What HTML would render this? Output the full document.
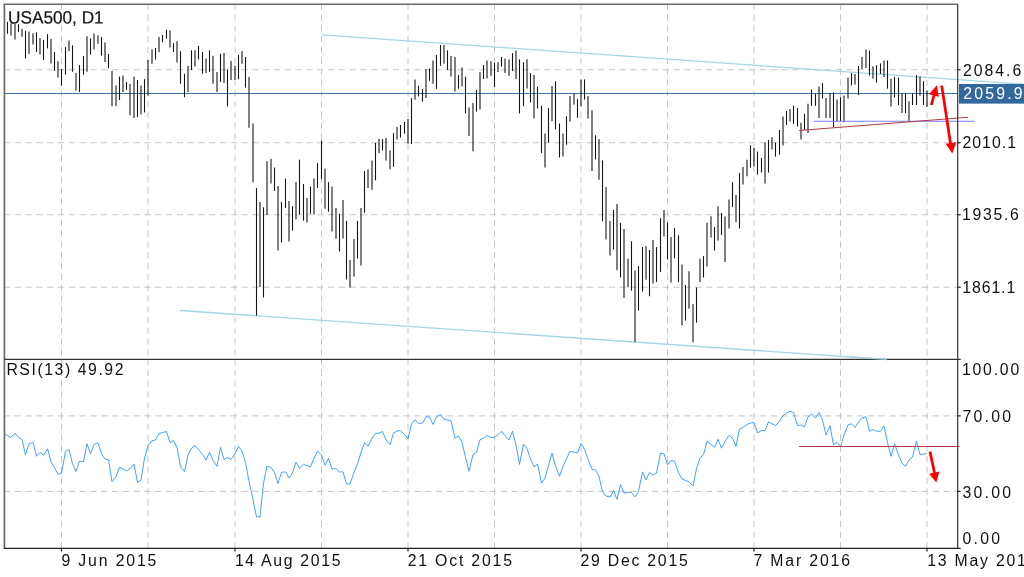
<!DOCTYPE html><html><head><meta charset="utf-8"><title>USA500, D1</title>
<style>html,body{margin:0;padding:0;background:#fff;}body{width:1024px;height:577px;overflow:hidden;}svg{display:block;}text{font-family:"Liberation Sans",sans-serif;fill:#111;}</style></head><body>
<svg width="1024" height="577" viewBox="0 0 1024 577">
<rect width="1024" height="577" fill="#fff"/>
<g stroke="#c6c6c6" stroke-width="1" stroke-dasharray="6.4,4.4" fill="none">
<line x1="61.50" y1="4.2" x2="61.50" y2="359.3" stroke-dashoffset="0.5"/>
<line x1="61.50" y1="359.3" x2="61.50" y2="548.4" stroke-dashoffset="0.5"/>
<line x1="148.00" y1="4.2" x2="148.00" y2="359.3" stroke-dashoffset="0.5"/>
<line x1="148.00" y1="359.3" x2="148.00" y2="548.4" stroke-dashoffset="0.5"/>
<line x1="235.00" y1="4.2" x2="235.00" y2="359.3" stroke-dashoffset="0.5"/>
<line x1="235.00" y1="359.3" x2="235.00" y2="548.4" stroke-dashoffset="0.5"/>
<line x1="321.50" y1="4.2" x2="321.50" y2="359.3" stroke-dashoffset="0.5"/>
<line x1="321.50" y1="359.3" x2="321.50" y2="548.4" stroke-dashoffset="0.5"/>
<line x1="408.00" y1="4.2" x2="408.00" y2="359.3" stroke-dashoffset="0.5"/>
<line x1="408.00" y1="359.3" x2="408.00" y2="548.4" stroke-dashoffset="0.5"/>
<line x1="494.50" y1="4.2" x2="494.50" y2="359.3" stroke-dashoffset="0.5"/>
<line x1="494.50" y1="359.3" x2="494.50" y2="548.4" stroke-dashoffset="0.5"/>
<line x1="581.00" y1="4.2" x2="581.00" y2="359.3" stroke-dashoffset="0.5"/>
<line x1="581.00" y1="359.3" x2="581.00" y2="548.4" stroke-dashoffset="0.5"/>
<line x1="667.50" y1="4.2" x2="667.50" y2="359.3" stroke-dashoffset="0.5"/>
<line x1="667.50" y1="359.3" x2="667.50" y2="548.4" stroke-dashoffset="0.5"/>
<line x1="754.00" y1="4.2" x2="754.00" y2="359.3" stroke-dashoffset="0.5"/>
<line x1="754.00" y1="359.3" x2="754.00" y2="548.4" stroke-dashoffset="0.5"/>
<line x1="840.50" y1="4.2" x2="840.50" y2="359.3" stroke-dashoffset="0.5"/>
<line x1="840.50" y1="359.3" x2="840.50" y2="548.4" stroke-dashoffset="0.5"/>
<line x1="927.00" y1="4.2" x2="927.00" y2="359.3" stroke-dashoffset="0.5"/>
<line x1="927.00" y1="359.3" x2="927.00" y2="548.4" stroke-dashoffset="0.5"/>
<line x1="4.4" y1="69.75" x2="957.7" y2="69.75" stroke-dashoffset="0.55"/>
<line x1="4.4" y1="142.75" x2="957.7" y2="142.75" stroke-dashoffset="0.55"/>
<line x1="4.4" y1="214.75" x2="957.7" y2="214.75" stroke-dashoffset="0.55"/>
<line x1="4.4" y1="287.2" x2="957.7" y2="287.2" stroke-dashoffset="0.55"/>
<line x1="4.4" y1="415.9" x2="957.7" y2="415.9" stroke-dashoffset="0.55"/>
<line x1="4.4" y1="491.4" x2="957.7" y2="491.4" stroke-dashoffset="0.55"/>
</g>
<line x1="4.4" y1="93.5" x2="957.7" y2="93.5" stroke="#3d74ab" stroke-width="1"/>
<g stroke="#a6d5e4" stroke-width="1.3" fill="none">
<line x1="322" y1="34.9" x2="1024" y2="84.2"/>
<line x1="180" y1="310.5" x2="887" y2="359.5"/>
</g>
<g stroke="#141414" stroke-width="1.08" fill="none">
<line x1="7.50" y1="21.8" x2="7.50" y2="33.75"/>
<line x1="11.00" y1="23.2" x2="11.00" y2="35.5"/>
<line x1="15.00" y1="24" x2="15.00" y2="39.6"/>
<line x1="18.50" y1="24.1" x2="18.50" y2="32.1"/>
<line x1="22.00" y1="29" x2="22.00" y2="36.75"/>
<line x1="25.50" y1="30.8" x2="25.50" y2="58.4"/>
<line x1="29.00" y1="31.4" x2="29.00" y2="53.75"/>
<line x1="33.00" y1="33.3" x2="33.00" y2="44.4"/>
<line x1="36.50" y1="32.4" x2="36.50" y2="51.9"/>
<line x1="40.00" y1="38" x2="40.00" y2="54.6"/>
<line x1="43.50" y1="39.9" x2="43.50" y2="60"/>
<line x1="47.50" y1="34.25" x2="47.50" y2="48.4"/>
<line x1="51.00" y1="39" x2="51.00" y2="63.6"/>
<line x1="54.50" y1="52.1" x2="54.50" y2="70.9"/>
<line x1="58.00" y1="61.25" x2="58.00" y2="77.4"/>
<line x1="61.50" y1="69" x2="61.50" y2="85.6"/>
<line x1="65.50" y1="47.1" x2="65.50" y2="74.6"/>
<line x1="69.00" y1="40.6" x2="69.00" y2="51.1"/>
<line x1="72.50" y1="45.25" x2="72.50" y2="71.75"/>
<line x1="76.00" y1="73" x2="76.00" y2="90.6"/>
<line x1="79.50" y1="65" x2="79.50" y2="91.9"/>
<line x1="83.50" y1="56.1" x2="83.50" y2="74.6"/>
<line x1="87.00" y1="36.25" x2="87.00" y2="71.75"/>
<line x1="90.50" y1="38.4" x2="90.50" y2="54.6"/>
<line x1="94.00" y1="33.4" x2="94.00" y2="49.4"/>
<line x1="98.00" y1="35.25" x2="98.00" y2="43.75"/>
<line x1="101.50" y1="37.1" x2="101.50" y2="55.6"/>
<line x1="105.00" y1="42.5" x2="105.00" y2="61.9"/>
<line x1="108.50" y1="54" x2="108.50" y2="68.4"/>
<line x1="112.00" y1="71" x2="112.00" y2="106.25"/>
<line x1="116.00" y1="85.6" x2="116.00" y2="106.25"/>
<line x1="119.50" y1="76.6" x2="119.50" y2="100"/>
<line x1="123.00" y1="75.6" x2="123.00" y2="91.9"/>
<line x1="126.50" y1="81.9" x2="126.50" y2="89.9"/>
<line x1="130.00" y1="83.75" x2="130.00" y2="115.25"/>
<line x1="134.00" y1="76.5" x2="134.00" y2="117.9"/>
<line x1="137.50" y1="80" x2="137.50" y2="116.9"/>
<line x1="141.00" y1="85.6" x2="141.00" y2="114.4"/>
<line x1="144.50" y1="79.1" x2="144.50" y2="112.5"/>
<line x1="148.00" y1="60" x2="148.00" y2="95.6"/>
<line x1="152.00" y1="49.4" x2="152.00" y2="63.75"/>
<line x1="155.50" y1="47.9" x2="155.50" y2="59.5"/>
<line x1="159.00" y1="36.9" x2="159.00" y2="51.9"/>
<line x1="162.50" y1="35" x2="162.50" y2="42.25"/>
<line x1="166.50" y1="29.75" x2="166.50" y2="38.75"/>
<line x1="170.00" y1="30.6" x2="170.00" y2="47.5"/>
<line x1="173.50" y1="43.1" x2="173.50" y2="52.1"/>
<line x1="177.00" y1="41.25" x2="177.00" y2="62.6"/>
<line x1="180.50" y1="51.25" x2="180.50" y2="83.75"/>
<line x1="184.50" y1="73.75" x2="184.50" y2="97.25"/>
<line x1="188.00" y1="65.75" x2="188.00" y2="91.9"/>
<line x1="191.50" y1="50.25" x2="191.50" y2="70"/>
<line x1="195.00" y1="50.25" x2="195.00" y2="66.5"/>
<line x1="198.50" y1="46" x2="198.50" y2="59.4"/>
<line x1="202.50" y1="52" x2="202.50" y2="73.75"/>
<line x1="206.00" y1="58.5" x2="206.00" y2="72.9"/>
<line x1="209.50" y1="50.25" x2="209.50" y2="71.9"/>
<line x1="213.00" y1="55.75" x2="213.00" y2="83.75"/>
<line x1="217.00" y1="71.9" x2="217.00" y2="91.9"/>
<line x1="220.50" y1="53.75" x2="220.50" y2="81.9"/>
<line x1="224.00" y1="53.1" x2="224.00" y2="82.9"/>
<line x1="227.50" y1="69.4" x2="227.50" y2="106.25"/>
<line x1="231.00" y1="61" x2="231.00" y2="80"/>
<line x1="235.00" y1="65.75" x2="235.00" y2="80"/>
<line x1="238.50" y1="55" x2="238.50" y2="79.2"/>
<line x1="242.00" y1="51.1" x2="242.00" y2="63.75"/>
<line x1="245.50" y1="56.9" x2="245.50" y2="87.5"/>
<line x1="249.00" y1="76.9" x2="249.00" y2="127.75"/>
<line x1="253.00" y1="123.4" x2="253.00" y2="182.5"/>
<line x1="256.50" y1="188.1" x2="256.50" y2="315.6"/>
<line x1="260.00" y1="201.9" x2="260.00" y2="287.1"/>
<line x1="263.50" y1="207.25" x2="263.50" y2="297.5"/>
<line x1="267.00" y1="161.25" x2="267.00" y2="215"/>
<line x1="271.00" y1="158.75" x2="271.00" y2="183.5"/>
<line x1="274.50" y1="167.5" x2="274.50" y2="190.9"/>
<line x1="278.00" y1="186" x2="278.00" y2="250.6"/>
<line x1="281.50" y1="201.9" x2="281.50" y2="242.5"/>
<line x1="285.50" y1="178.5" x2="285.50" y2="207.9"/>
<line x1="289.00" y1="201" x2="289.00" y2="241.5"/>
<line x1="292.50" y1="206.25" x2="292.50" y2="230.6"/>
<line x1="296.00" y1="182.1" x2="296.00" y2="219.6"/>
<line x1="299.50" y1="159.6" x2="299.50" y2="214.4"/>
<line x1="303.50" y1="184" x2="303.50" y2="220.6"/>
<line x1="307.00" y1="198.1" x2="307.00" y2="222.5"/>
<line x1="310.50" y1="186.5" x2="310.50" y2="213.75"/>
<line x1="314.00" y1="178.5" x2="314.00" y2="214.4"/>
<line x1="317.50" y1="163.1" x2="317.50" y2="187.9"/>
<line x1="321.50" y1="140.6" x2="321.50" y2="179"/>
<line x1="325.00" y1="168.75" x2="325.00" y2="208.75"/>
<line x1="328.50" y1="182.1" x2="328.50" y2="211.6"/>
<line x1="332.00" y1="186.5" x2="332.00" y2="231.6"/>
<line x1="336.00" y1="208.1" x2="336.00" y2="238.75"/>
<line x1="339.50" y1="213.75" x2="339.50" y2="251.5"/>
<line x1="343.00" y1="200" x2="343.00" y2="238.6"/>
<line x1="346.50" y1="220.9" x2="346.50" y2="279.4"/>
<line x1="350.00" y1="260" x2="350.00" y2="287.5"/>
<line x1="354.00" y1="239" x2="354.00" y2="276.6"/>
<line x1="357.50" y1="220.9" x2="357.50" y2="258.5"/>
<line x1="361.00" y1="208.1" x2="361.00" y2="265.6"/>
<line x1="364.50" y1="171.1" x2="364.50" y2="212.75"/>
<line x1="368.00" y1="169.5" x2="368.00" y2="188.1"/>
<line x1="372.00" y1="160.5" x2="372.00" y2="189.7"/>
<line x1="375.50" y1="142.9" x2="375.50" y2="180.3"/>
<line x1="379.00" y1="139.1" x2="379.00" y2="152.9"/>
<line x1="382.50" y1="139.1" x2="382.50" y2="150.4"/>
<line x1="386.00" y1="138.1" x2="386.00" y2="160.5"/>
<line x1="390.00" y1="150.6" x2="390.00" y2="169.25"/>
<line x1="393.50" y1="133.1" x2="393.50" y2="166.75"/>
<line x1="397.00" y1="127.1" x2="397.00" y2="139.6"/>
<line x1="400.50" y1="125" x2="400.50" y2="137.5"/>
<line x1="404.50" y1="121.9" x2="404.50" y2="133.75"/>
<line x1="408.00" y1="119.1" x2="408.00" y2="143.5"/>
<line x1="411.50" y1="98.1" x2="411.50" y2="144"/>
<line x1="415.00" y1="79.4" x2="415.00" y2="99.75"/>
<line x1="418.50" y1="85.75" x2="418.50" y2="96.4"/>
<line x1="422.50" y1="89.1" x2="422.50" y2="101.75"/>
<line x1="426.00" y1="69.1" x2="426.00" y2="97.9"/>
<line x1="429.50" y1="68.5" x2="429.50" y2="80.75"/>
<line x1="433.00" y1="60.4" x2="433.00" y2="83.75"/>
<line x1="436.50" y1="55.1" x2="436.50" y2="88.9"/>
<line x1="440.50" y1="45" x2="440.50" y2="65.75"/>
<line x1="444.00" y1="45" x2="444.00" y2="63.75"/>
<line x1="447.50" y1="50.4" x2="447.50" y2="70"/>
<line x1="451.00" y1="56" x2="451.00" y2="76.6"/>
<line x1="455.00" y1="56.9" x2="455.00" y2="91.6"/>
<line x1="458.50" y1="75" x2="458.50" y2="88.75"/>
<line x1="462.00" y1="67.6" x2="462.00" y2="86.6"/>
<line x1="465.50" y1="76.6" x2="465.50" y2="113.4"/>
<line x1="469.00" y1="107.4" x2="469.00" y2="135.9"/>
<line x1="473.00" y1="103" x2="473.00" y2="151.25"/>
<line x1="476.50" y1="90.1" x2="476.50" y2="111.6"/>
<line x1="480.00" y1="72.25" x2="480.00" y2="109.6"/>
<line x1="483.50" y1="65" x2="483.50" y2="79.1"/>
<line x1="487.00" y1="60.4" x2="487.00" y2="78.5"/>
<line x1="491.00" y1="61.25" x2="491.00" y2="75.75"/>
<line x1="494.50" y1="62.9" x2="494.50" y2="87.25"/>
<line x1="498.00" y1="62.25" x2="498.00" y2="71.9"/>
<line x1="501.50" y1="56.9" x2="501.50" y2="66.6"/>
<line x1="505.00" y1="58.5" x2="505.00" y2="72.9"/>
<line x1="509.00" y1="59.5" x2="509.00" y2="75.75"/>
<line x1="512.50" y1="53.1" x2="512.50" y2="71"/>
<line x1="516.00" y1="50.4" x2="516.00" y2="79"/>
<line x1="519.50" y1="59.4" x2="519.50" y2="113.4"/>
<line x1="523.50" y1="62.2" x2="523.50" y2="106.1"/>
<line x1="527.00" y1="59.25" x2="527.00" y2="88.6"/>
<line x1="530.50" y1="73.1" x2="530.50" y2="102.5"/>
<line x1="534.00" y1="75" x2="534.00" y2="118.5"/>
<line x1="537.50" y1="86.6" x2="537.50" y2="108.5"/>
<line x1="541.50" y1="105.6" x2="541.50" y2="152.9"/>
<line x1="545.00" y1="133.5" x2="545.00" y2="167.5"/>
<line x1="548.50" y1="108.1" x2="548.50" y2="142.5"/>
<line x1="552.00" y1="85.9" x2="552.00" y2="121.25"/>
<line x1="555.50" y1="81.25" x2="555.50" y2="129.4"/>
<line x1="559.50" y1="123.5" x2="559.50" y2="157.5"/>
<line x1="563.00" y1="133.5" x2="563.00" y2="156.6"/>
<line x1="566.50" y1="116.25" x2="566.50" y2="144.75"/>
<line x1="570.00" y1="95.9" x2="570.00" y2="121.5"/>
<line x1="574.00" y1="93.4" x2="574.00" y2="104.4"/>
<line x1="577.50" y1="99.1" x2="577.50" y2="117.8"/>
<line x1="581.00" y1="79.4" x2="581.00" y2="106.25"/>
<line x1="584.50" y1="79.4" x2="584.50" y2="99.6"/>
<line x1="588.00" y1="95.9" x2="588.00" y2="118.5"/>
<line x1="592.00" y1="110.25" x2="592.00" y2="170.9"/>
<line x1="595.50" y1="135.25" x2="595.50" y2="159.4"/>
<line x1="599.00" y1="139" x2="599.00" y2="179.7"/>
<line x1="602.50" y1="160.4" x2="602.50" y2="221.25"/>
<line x1="606.00" y1="186.9" x2="606.00" y2="239.4"/>
<line x1="610.00" y1="221" x2="610.00" y2="255.6"/>
<line x1="613.50" y1="210" x2="613.50" y2="249.6"/>
<line x1="617.00" y1="204" x2="617.00" y2="270.25"/>
<line x1="620.50" y1="222.9" x2="620.50" y2="277.5"/>
<line x1="624.00" y1="229.1" x2="624.00" y2="298.1"/>
<line x1="628.00" y1="258.75" x2="628.00" y2="287.25"/>
<line x1="631.50" y1="241.25" x2="631.50" y2="290.6"/>
<line x1="635.00" y1="270.6" x2="635.00" y2="341.9"/>
<line x1="638.50" y1="266" x2="638.50" y2="310.6"/>
<line x1="642.50" y1="247.1" x2="642.50" y2="291.6"/>
<line x1="646.00" y1="246.25" x2="646.00" y2="279.75"/>
<line x1="649.50" y1="250" x2="649.50" y2="296.25"/>
<line x1="653.00" y1="240" x2="653.00" y2="283.5"/>
<line x1="656.50" y1="247.1" x2="656.50" y2="281.9"/>
<line x1="660.50" y1="218.1" x2="660.50" y2="271.9"/>
<line x1="664.00" y1="210" x2="664.00" y2="236.6"/>
<line x1="667.50" y1="222.5" x2="667.50" y2="259.4"/>
<line x1="671.00" y1="237.1" x2="671.00" y2="282.5"/>
<line x1="674.50" y1="228.1" x2="674.50" y2="258.4"/>
<line x1="678.50" y1="235.25" x2="678.50" y2="281.9"/>
<line x1="682.00" y1="264.4" x2="682.00" y2="325.25"/>
<line x1="685.50" y1="285" x2="685.50" y2="320.6"/>
<line x1="689.00" y1="271.25" x2="689.00" y2="308.75"/>
<line x1="693.00" y1="303.9" x2="693.00" y2="342.5"/>
<line x1="696.50" y1="287.5" x2="696.50" y2="322.75"/>
<line x1="700.00" y1="258.75" x2="700.00" y2="281.9"/>
<line x1="703.50" y1="256.1" x2="703.50" y2="277.5"/>
<line x1="707.00" y1="222.75" x2="707.00" y2="266.6"/>
<line x1="711.00" y1="216.25" x2="711.00" y2="237.5"/>
<line x1="714.50" y1="227" x2="714.50" y2="250.5"/>
<line x1="718.00" y1="206.25" x2="718.00" y2="240.4"/>
<line x1="721.50" y1="213" x2="721.50" y2="235"/>
<line x1="725.00" y1="216.4" x2="725.00" y2="261.9"/>
<line x1="729.00" y1="199.4" x2="729.00" y2="228.5"/>
<line x1="732.50" y1="182.25" x2="732.50" y2="206.9"/>
<line x1="736.00" y1="195" x2="736.00" y2="222.25"/>
<line x1="739.50" y1="173.1" x2="739.50" y2="228.5"/>
<line x1="743.00" y1="167.1" x2="743.00" y2="184.4"/>
<line x1="747.00" y1="159.75" x2="747.00" y2="176.25"/>
<line x1="750.50" y1="145.25" x2="750.50" y2="167.5"/>
<line x1="754.00" y1="148.1" x2="754.00" y2="166.25"/>
<line x1="757.50" y1="151.6" x2="757.50" y2="174.6"/>
<line x1="761.50" y1="158.1" x2="761.50" y2="172.5"/>
<line x1="765.00" y1="142.5" x2="765.00" y2="183.4"/>
<line x1="768.50" y1="140" x2="768.50" y2="172.5"/>
<line x1="772.00" y1="137.25" x2="772.00" y2="149.4"/>
<line x1="775.50" y1="142.5" x2="775.50" y2="156.6"/>
<line x1="779.50" y1="130" x2="779.50" y2="154.6"/>
<line x1="783.00" y1="116.5" x2="783.00" y2="145.6"/>
<line x1="786.50" y1="111" x2="786.50" y2="125"/>
<line x1="790.00" y1="109.1" x2="790.00" y2="121.5"/>
<line x1="793.50" y1="105.6" x2="793.50" y2="124.1"/>
<line x1="797.50" y1="108.1" x2="797.50" y2="126.6"/>
<line x1="801.00" y1="122.75" x2="801.00" y2="139.4"/>
<line x1="804.50" y1="113.75" x2="804.50" y2="130"/>
<line x1="808.00" y1="103.75" x2="808.00" y2="133.1"/>
<line x1="811.50" y1="89.4" x2="811.50" y2="105.8"/>
<line x1="815.50" y1="93.5" x2="815.50" y2="105.8"/>
<line x1="819.00" y1="86.5" x2="819.00" y2="117.9"/>
<line x1="822.50" y1="83.1" x2="822.50" y2="98.5"/>
<line x1="826.00" y1="98.1" x2="826.00" y2="117.9"/>
<line x1="830.00" y1="93.1" x2="830.00" y2="117.9"/>
<line x1="833.50" y1="92.25" x2="833.50" y2="126.9"/>
<line x1="837.00" y1="99.4" x2="837.00" y2="121.8"/>
<line x1="840.50" y1="97.2" x2="840.50" y2="121.25"/>
<line x1="844.00" y1="95.6" x2="844.00" y2="122.25"/>
<line x1="848.00" y1="77.5" x2="848.00" y2="98.6"/>
<line x1="851.50" y1="73.1" x2="851.50" y2="85.4"/>
<line x1="855.00" y1="74" x2="855.00" y2="84.4"/>
<line x1="858.50" y1="66" x2="858.50" y2="95"/>
<line x1="862.00" y1="57.1" x2="862.00" y2="69.1"/>
<line x1="866.00" y1="49.6" x2="866.00" y2="68.1"/>
<line x1="869.50" y1="50.6" x2="869.50" y2="75.6"/>
<line x1="873.00" y1="66.25" x2="873.00" y2="78.75"/>
<line x1="876.50" y1="65.25" x2="876.50" y2="82.5"/>
<line x1="880.50" y1="63.4" x2="880.50" y2="74"/>
<line x1="884.00" y1="60.4" x2="884.00" y2="76.9"/>
<line x1="887.50" y1="60.4" x2="887.50" y2="88.75"/>
<line x1="891.00" y1="78.75" x2="891.00" y2="106.6"/>
<line x1="894.50" y1="76.9" x2="894.50" y2="97.6"/>
<line x1="898.50" y1="77.5" x2="898.50" y2="105"/>
<line x1="902.00" y1="93.6" x2="902.00" y2="113.1"/>
<line x1="905.50" y1="93.6" x2="905.50" y2="113.1"/>
<line x1="909.00" y1="101.25" x2="909.00" y2="121.5"/>
<line x1="912.50" y1="93.5" x2="912.50" y2="105"/>
<line x1="916.50" y1="75" x2="916.50" y2="105"/>
<line x1="920.00" y1="76.25" x2="920.00" y2="95.75"/>
<line x1="923.50" y1="81.25" x2="923.50" y2="105"/>
<line x1="927.00" y1="90.4" x2="927.00" y2="106.75"/>
</g>
<line x1="814" y1="121.3" x2="974.4" y2="121.3" stroke="#7d7dff" stroke-width="1.1"/>
<line x1="798.9" y1="130.6" x2="968" y2="117.3" stroke="#b43a45" stroke-width="1.05"/>
<polyline fill="none" stroke="#2f97ff" stroke-width="0.9" stroke-linejoin="round" points="4.40,433.75 7.50,435.6 11.00,437.5 15.00,433.1 18.50,437.5 22.00,439.6 25.50,454.75 29.00,443.75 33.00,442.25 36.50,456.25 40.00,452.25 43.50,455.4 47.50,448.75 51.00,461.9 54.50,467.5 58.00,474.4 61.50,473.1 65.50,451.25 69.00,449.4 72.50,463.75 76.00,471.5 79.50,461 83.50,461.9 87.00,443.75 90.50,453.75 94.00,444.4 98.00,443.1 101.50,453.75 105.00,459.1 108.50,459.75 112.00,481.6 116.00,476.9 119.50,467.25 123.00,469 126.50,470.9 130.00,468.75 134.00,464 137.50,482.25 141.00,480 144.50,458.1 148.00,445.6 152.00,440.6 155.50,440 159.00,433.5 162.50,432.5 166.50,431.5 170.00,442.5 173.50,440.6 177.00,447.5 180.50,466.9 184.50,471.5 188.00,455 191.50,448.1 195.00,445.6 198.50,449.75 202.50,454.4 206.00,460 209.50,452.25 213.00,460.6 217.00,466.25 220.50,447.5 224.00,459.4 227.50,457.5 231.00,459.4 235.00,453.75 238.50,446.5 242.00,451.1 245.50,462.5 249.00,481.25 253.00,499.4 256.50,516.9 260.00,516.9 263.50,483.1 267.00,466.25 271.00,467.5 274.50,472.5 278.00,483.5 281.50,472.25 285.50,471.9 289.00,478.1 292.50,473.1 296.00,462.1 299.50,468.1 303.50,464.4 307.00,465.6 310.50,466.9 314.00,458.1 317.50,451.25 321.50,455 325.00,465.25 328.50,458.5 332.00,469.1 336.00,468.5 339.50,471.9 343.00,471.9 346.50,484 350.00,484 354.00,472.5 357.50,463.75 361.00,452.8 364.50,442.5 368.00,446.25 372.00,438.1 375.50,433.5 379.00,433.1 382.50,431.5 386.00,440 390.00,444.75 393.50,433.1 397.00,431 400.50,430.6 404.50,434.4 408.00,439 411.50,423.75 415.00,419.75 418.50,423.4 422.50,423.1 426.00,416.9 429.50,416.9 433.00,424.4 436.50,416.9 440.50,414.4 444.00,419.4 447.50,420 451.00,421 455.00,438.1 458.50,436 462.00,442.5 465.50,457.5 469.00,471.25 473.00,454.4 476.50,452.5 480.00,439.75 483.50,438.1 487.00,435.4 491.00,437.5 494.50,437.5 498.00,434.75 501.50,431.25 505.00,435.6 509.00,440 512.50,431.25 516.00,445 519.50,464.4 523.50,444.1 527.00,448.5 530.50,458.75 534.00,466.9 537.50,464 541.50,483.1 545.00,478.1 548.50,465.6 552.00,453.1 555.50,466.25 559.50,476.25 563.00,466.25 566.50,458.75 570.00,451.6 574.00,452.1 577.50,452.9 581.00,443.5 584.50,449.4 588.00,459.4 592.00,469.4 595.50,470 599.00,476.2 602.50,491.9 606.00,496 610.00,497.1 613.50,490.6 617.00,499.4 620.50,484.75 624.00,493.1 628.00,492.25 631.50,492.5 635.00,496.9 638.50,491.25 642.50,471.9 646.00,479.75 649.50,472.5 653.00,475.25 656.50,473.1 660.50,453.1 664.00,453.75 667.50,464.75 671.00,460.6 674.50,461.25 678.50,472.5 682.00,479 685.50,480.4 689.00,481.9 693.00,486 696.50,468.75 700.00,457.75 703.50,454.75 707.00,441.25 711.00,444.4 714.50,447.25 718.00,439.4 721.50,448.2 725.00,441.5 729.00,435.25 732.50,438.1 736.00,446.25 739.50,429 743.00,427.5 747.00,424.4 750.50,423.1 754.00,422.5 757.50,432.9 761.50,430.6 765.00,430.4 768.50,421.9 772.00,423.75 775.50,425.6 779.50,421.25 783.00,415.6 786.50,413.1 790.00,411.25 793.50,412.5 797.50,425.6 801.00,425 804.50,426.9 808.00,416.9 811.50,414 815.50,417.9 819.00,412.5 822.50,420 826.00,435 830.00,425.6 833.50,445 837.00,442.2 840.50,446.7 844.00,435 848.00,425 851.50,423.75 855.00,427.5 858.50,421.9 862.00,418.1 866.00,416.6 869.50,431.25 873.00,429.4 876.50,431.25 880.50,431.25 884.00,426 887.50,442.5 891.00,456.25 894.50,443.75 898.50,455 902.00,463.1 905.50,466.25 909.00,460 912.50,456.9 916.50,441.25 920.00,454.75 923.50,454 926.80,453.75"/>
<line x1="798.9" y1="446.4" x2="959.8" y2="446.4" stroke="#b43a45" stroke-width="1.05"/>
<g stroke="#4a4a4a" stroke-width="1.2" fill="none">
<line x1="4.4" y1="4.2" x2="4.4" y2="548.4" stroke="#6a6a6a" stroke-width="1.7"/>
<line x1="3.6000000000000005" y1="4.2" x2="957.7" y2="4.2" stroke="#6a6a6a" stroke-width="1.6"/>
<line x1="957.7" y1="4.2" x2="957.7" y2="548.9" stroke="#333"/>
<line x1="4.4" y1="359.3" x2="960.7" y2="359.3" stroke="#333"/>
<line x1="3.8000000000000003" y1="548.4" x2="960.7" y2="548.4" stroke="#222"/>
<line x1="957.7" y1="69.75" x2="960.7" y2="69.75" stroke="#222"/>
<line x1="957.7" y1="142.75" x2="960.7" y2="142.75" stroke="#222"/>
<line x1="957.7" y1="214.75" x2="960.7" y2="214.75" stroke="#222"/>
<line x1="957.7" y1="287.2" x2="960.7" y2="287.2" stroke="#222"/>
<line x1="957.7" y1="415.9" x2="960.7" y2="415.9" stroke="#222"/>
<line x1="957.7" y1="491.4" x2="960.7" y2="491.4" stroke="#222"/>
<line x1="61.50" y1="548.4" x2="61.50" y2="551.6" stroke="#222"/>
<line x1="235.00" y1="548.4" x2="235.00" y2="551.6" stroke="#222"/>
<line x1="408.00" y1="548.4" x2="408.00" y2="551.6" stroke="#222"/>
<line x1="581.00" y1="548.4" x2="581.00" y2="551.6" stroke="#222"/>
<line x1="754.00" y1="548.4" x2="754.00" y2="551.6" stroke="#222"/>
<line x1="927.00" y1="548.4" x2="927.00" y2="551.6" stroke="#222"/>
</g>
<line x1="850" y1="356.80" x2="887" y2="359.5" stroke="#a6d5e4" stroke-width="1.3" opacity="0.8"/>
<rect x="959" y="84" width="66" height="19.6" fill="#33689c"/>
<g fill="#ff0000" stroke="#ff0000" stroke-linecap="butt">
<line x1="931.3" y1="105" x2="934.3" y2="94" stroke-width="2.75"/>
<polygon points="936.8,85.2 929.0,94.3 938.9,96.8" stroke="none"/>
<line x1="941.7" y1="85.6" x2="950.6" y2="144" stroke-width="2.75"/>
<polygon points="952.3,153.4 945.6,143.8 956.2,142.3" stroke="none"/>
<line x1="930.0" y1="451.6" x2="934.6" y2="473.5" stroke-width="2.75"/>
<polygon points="936.3,482.4 929.1,473.7 939.4,471.6" stroke="none"/>
</g>
<text transform="translate(8.0,23.45) rotate(0.03) scale(0.968,1)" font-size="17.8" stroke="#111" stroke-width="0.2">USA500, D1</text>
<g font-size="15.8">
<text x="6.4" y="374.8" letter-spacing="1.56">RSI(13) 49.92</text>
<text x="962.9" y="75.65" letter-spacing="2.0">2084.6</text>
<text x="963.2" y="99.15" letter-spacing="2.2" style="fill:#fff">2059.9</text>
<text x="962.4" y="148.30" letter-spacing="1.06">2010.1</text>
<text x="962.1" y="220.40" letter-spacing="1.7">1935.6</text>
<text x="962.3" y="292.95" letter-spacing="0.92">1861.1</text>
<text x="961.9" y="374.80" letter-spacing="1.8">100.00</text>
<text x="962.4" y="421.65" letter-spacing="2.3">70.00</text>
<text x="962.4" y="497.60" letter-spacing="2.3">30.00</text>
<text x="962.6" y="544.40" letter-spacing="2.2">0.00</text>
<text x="61.50" y="566" letter-spacing="1.85">9 Jun 2015</text>
<text x="234.90" y="566" letter-spacing="1.68">14 Aug 2015</text>
<text x="407.65" y="566" letter-spacing="1.83">21 Oct 2015</text>
<text x="580.40" y="566" letter-spacing="1.78">29 Dec 2015</text>
<text x="753.40" y="566" letter-spacing="1.85">7 Mar 2016</text>
<text x="927.15" y="566" letter-spacing="1.8">13 May 2016</text>
</g>
</svg></body></html>
